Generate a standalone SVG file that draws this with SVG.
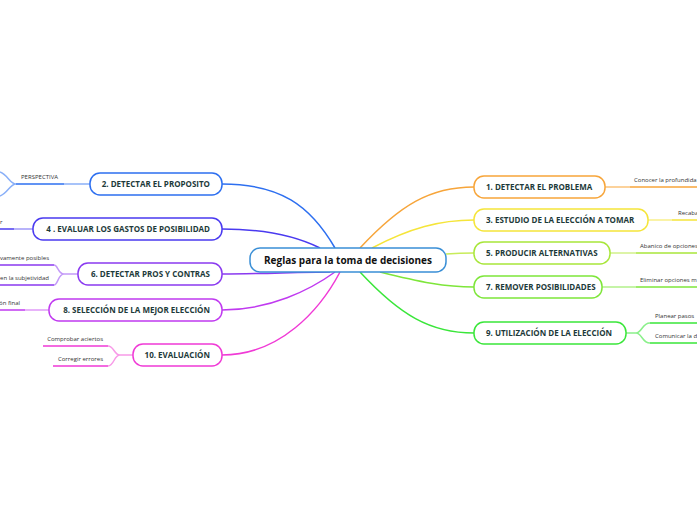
<svg xmlns="http://www.w3.org/2000/svg" width="697" height="520" viewBox="0 0 697 520">
<style>
.n{fill:#fff;stroke-width:1.5}
.t{font-family:"Open Sans","Noto Sans",sans-serif;font-weight:bold;font-size:8px;fill:#1d3a3a}
.s{font-family:"Open Sans","Noto Sans",sans-serif;font-size:6px;fill:#333}
.c{fill:none;stroke-width:1.5}
</style>
<rect width="697" height="520" fill="#fff"/>
<g id="connectors">
<path class="c" stroke="#f7a53a" d="M360,248 C400,205 430,187 474,187"/>
<path class="c" stroke="#f5e53a" d="M372,248 C410,228 440,220 474,220"/>
<path class="c" stroke="#c8ec5a" d="M446,254 C460,253 465,253 474,253"/>
<path class="c" stroke="#7ee63a" d="M380,272 C420,282 445,287 474,287"/>
<path class="c" stroke="#3ae63a" d="M360,272 C400,315 430,333 474,333"/>
<path class="c" stroke="#2d6ff0" d="M222,184 C280,184 310,205 335,248"/>
<path class="c" stroke="#4a3af0" d="M222,229 C270,229 300,238 320,248"/>
<path class="c" stroke="#8a3af0" d="M222,274 C260,274 300,272 330,272"/>
<path class="c" stroke="#c03af0" d="M222,310 C270,310 310,290 335,272"/>
<path class="c" stroke="#f03ad6" d="M222,355 C280,355 320,310 340,272"/>
<path class="c" stroke="#fbc37a" d="M605,187 H630"/><path class="c" stroke="#f7a53a" d="M630,187 H697"/>
<path class="c" stroke="#f9ef8a" d="M648,220 H672"/><path class="c" stroke="#f5e53a" d="M672,220 H697"/>
<path class="c" stroke="#d2f08a" d="M610,253 H636"/><path class="c" stroke="#a8e63a" d="M636,253 H697"/>
<path class="c" stroke="#b2f08a" d="M602,287 H636"/><path class="c" stroke="#7ee63a" d="M636,287 H697"/>
<path class="c" stroke="#8af08a" d="M626,333 H636 C642,333 642,323 650,323 M636,333 C642,333 642,343 650,343"/>
<path class="c" stroke="#3ae63a" d="M650,323 H697 M650,343 H697"/>
<path class="c" stroke="#8ab0f8" d="M90,184 H64 M16,184 C10,184 8,175 0,172 M16,184 C10,184 8,193 0,196"/>
<path class="c" stroke="#2d6ff0" d="M64,184 H16"/>
<path class="c" stroke="#a09af8" d="M33,229 H14"/><path class="c" stroke="#4a3af0" d="M14,229 H0"/>
<path class="c" stroke="#c49af8" d="M78,274 H64 C58,274 58,265 54,265 M64,274 C58,274 58,285 54,285"/>
<path class="c" stroke="#8a3af0" d="M54,265 H0 M54,285 H0"/>
<path class="c" stroke="#e09af8" d="M49,310 H25"/><path class="c" stroke="#c03af0" d="M25,310 H0"/>
<path class="c" stroke="#f89ae8" d="M133,355 H120 C114,355 114,346 108,346 M120,355 C114,355 114,366 108,366"/>
<path class="c" stroke="#f03ad6" d="M108,346 H43 M108,366 H53"/>
</g>
<g id="center"><rect class="n" x="250" y="248" width="196" height="24" rx="10" stroke="#3a8fd6"/><text class="t" x="348" y="264" text-anchor="middle" font-size="10" style="font-size:10px;fill:#111">Reglas para la toma de decisiones</text></g>
<g id="n1"><rect class="n" x="474" y="176" width="131" height="22" rx="10" stroke="#f7a53a"/><text class="t" x="486" y="190">1. DETECTAR EL PROBLEMA</text></g>
<g id="n3"><rect class="n" x="474" y="209" width="174" height="22" rx="10" stroke="#f5e53a"/><text class="t" x="486" y="223">3. ESTUDIO DE LA ELECCIÓN A TOMAR</text></g>
<g id="n5"><rect class="n" x="474" y="242" width="136" height="22" rx="10" stroke="#a8e63a"/><text class="t" x="486" y="256">5. PRODUCIR ALTERNATIVAS</text></g>
<g id="n7"><rect class="n" x="474" y="276" width="128" height="22" rx="10" stroke="#7ee63a"/><text class="t" x="486" y="290">7. REMOVER POSIBILIDADES</text></g>
<g id="n9"><rect class="n" x="474" y="322" width="152" height="22" rx="10" stroke="#3ae63a"/><text class="t" x="486" y="336">9. UTILIZACIÓN DE LA ELECCIÓN</text></g>
<g id="n2"><rect class="n" x="90" y="173" width="132" height="22" rx="10" stroke="#2d6ff0"/><text class="t" x="210" y="187" text-anchor="end">2. DETECTAR EL PROPOSITO</text></g>
<g id="n4"><rect class="n" x="33" y="218" width="189" height="22" rx="10" stroke="#4a3af0"/><text class="t" x="210" y="232" text-anchor="end">4 . EVALUAR LOS GASTOS DE POSIBILIDAD</text></g>
<g id="n6"><rect class="n" x="78" y="263" width="144" height="22" rx="10" stroke="#8a3af0"/><text class="t" x="210" y="277" text-anchor="end">6. DETECTAR PROS Y CONTRAS</text></g>
<g id="n8"><rect class="n" x="49" y="299" width="173" height="22" rx="10" stroke="#c03af0"/><text class="t" x="210" y="313" text-anchor="end">8. SELECCIÓN DE LA MEJOR ELECCIÓN</text></g>
<g id="n10"><rect class="n" x="133" y="344" width="89" height="22" rx="10" stroke="#f03ad6"/><text class="t" x="210" y="358" text-anchor="end">10. EVALUACIÓN</text></g>
<g id="subs">
<text class="s" x="634" y="182">Conocer la profundida</text>
<text class="s" x="678" y="215">Recaba</text>
<text class="s" x="640" y="248">Abanico de opciones</text>
<text class="s" x="640" y="282">Eliminar opciones m</text>
<text class="s" x="655" y="318">Planear pasos</text>
<text class="s" x="655" y="338">Comunicar la d</text>
<text class="s" x="21" y="179">PERSPECTIVA</text>
<text class="s" x="0" y="224">r</text>
<text class="s" x="49" y="260" text-anchor="end">vamente posibles</text>
<text class="s" x="49" y="280" text-anchor="end">en la subjetividad</text>
<text class="s" x="20" y="305" text-anchor="end">ón final</text>
<text class="s" x="103" y="341" text-anchor="end">Comprobar aciertos</text>
<text class="s" x="103" y="361" text-anchor="end">Corregir errores</text>
</g>
</svg>
